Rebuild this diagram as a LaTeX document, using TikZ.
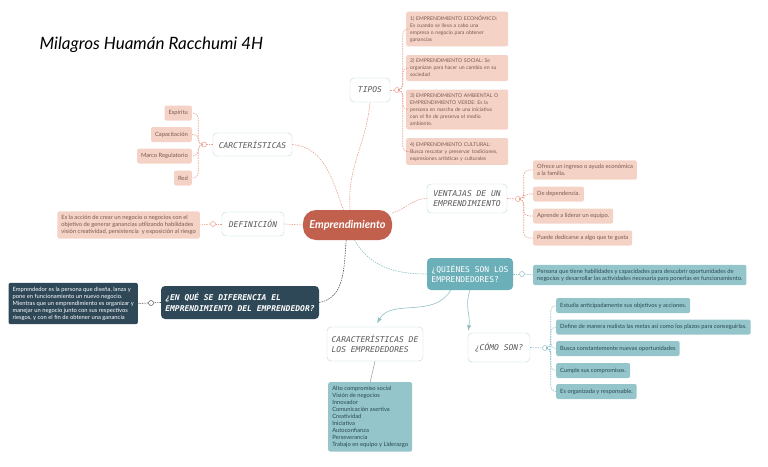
\documentclass[tikz,border=0pt]{standalone}
\usepackage{fontspec}
\setmainfont{Lato}
\newfontfamily\monofont{DejaVu Sans Mono}
\usetikzlibrary{arrows.meta,positioning,calc}

\definecolor{salmfill}{HTML}{F4D2C6}
\definecolor{salmtext}{HTML}{7A5A50}
\definecolor{salmline}{HTML}{E9A08E}
\definecolor{rimline}{HTML}{B9D9DA}
\definecolor{labeltext}{HTML}{5A5A5A}
\definecolor{tealfill}{HTML}{93C5CB}
\definecolor{tealdark}{HTML}{6BAFB9}
\definecolor{tealline}{HTML}{8FC0C6}
\definecolor{tealtext}{HTML}{2C4850}
\definecolor{navyfill}{HTML}{2F4857}
\definecolor{corefill}{HTML}{C2604E}
\definecolor{darkline}{HTML}{555555}

\newcommand{\boxfont}{\fontsize{5.8}{7}\selectfont}
\newcommand{\typefont}{\fontsize{5.1}{7}\selectfont}
\newcommand{\tagfont}{\monofont\itshape\fontsize{8}{10.5}\selectfont}

\begin{document}
\begin{tikzpicture}[
        x=1pt, y=-1pt,
        font=\boxfont,
        >=Latex,
        salmbox/.style={fill=salmfill, rounded corners=2pt, text=salmtext, align=left, inner sep=4pt, minimum height=15pt},
        tealbox/.style={fill=tealfill, rounded corners=2pt, text=tealtext, align=left, inner sep=4pt, minimum height=15pt},
        tagbox/.style={draw=rimline, fill=white, rounded corners=4pt, text=labeltext, font=\tagfont, align=center, inner sep=0pt},
        knot/.style={circle, draw=#1, fill=white, line width=0.5pt, minimum size=5pt, inner sep=0pt},
        salmlink/.style={draw=salmline, dash pattern=on 1.5pt off 1pt, line width=0.6pt},
        teallink/.style={draw=tealline, dash pattern=on 1.5pt off 1pt, line width=0.6pt},
        darklink/.style={draw=darkline, dash pattern=on 1.5pt off 1pt, line width=0.6pt}
    ]

    \useasboundingbox (0,0) rectangle (768,466);

    % Title
    \node[anchor=west, font=\itshape\fontsize{17}{20}\selectfont] (title) at (36,45) {Milagros Huamán Racchumi 4H};

    % Central node
    \node[fill=corefill, rounded corners=13pt, minimum width=89pt, minimum height=30pt, inner sep=0pt,
          text=white, font=\bfseries\itshape\fontsize{11}{13}\selectfont] (core) at (347.5,225) {Emprendimiento};

    % Main labels
    \node[tagbox, minimum width=40pt, minimum height=24pt] (tipos) at (370,90) {TIPOS};
    \node[tagbox, minimum width=79pt, minimum height=23pt] (carac) at (252.5,144.5) {CARCTERÍSTICAS};
    \node[tagbox, minimum width=62pt, minimum height=24pt] (defin) at (253,224) {DEFINICIÓN};
    \node[tagbox, minimum width=80pt, minimum height=29pt] (venta) at (467,198.5) {VENTAJAS DE UN\\EMPRENDIMIENTO};
    \node[fill=tealdark, rounded corners=4pt, minimum width=86pt, minimum height=32pt, inner sep=0pt, align=left,
          text=white, font=\monofont\fontsize{8}{10.5}\selectfont] (quien) at (470,274) {¿QUIÉNES SON LOS\\EMPRENDEDORES?};
    \node[fill=navyfill, rounded corners=4pt, minimum width=158pt, minimum height=33pt, inner sep=0pt, align=left,
          text=white, font=\monofont\bfseries\itshape\fontsize{8}{10.5}\selectfont] (difer) at (240,302.5) {¿EN QUÉ SE DIFERENCIA EL\\EMPRENDIMIENTO DEL EMPRENDEDOR?};
    \node[tagbox, minimum width=96pt, minimum height=34pt, align=left] (rasgo) at (375,344) {CARACTERÍSTICAS DE\\LOS EMPREDEDORES};
    \node[tagbox, minimum width=62pt, minimum height=29pt] (como) at (499,347.5) {¿CÓMO SON?};

    % Tipos
    \node[salmbox, font=\typefont, text width=94pt, anchor=west] (eco) at (406,29) {1) EMPRENDIMIENTO ECONÓMICO:\\Es cuando se lleva a cabo una\\empresa o negocio para obtener\\ganancias};
    \node[salmbox, font=\typefont, text width=94pt, anchor=west] (soc) at (406,68) {2) EMPRENDIMIENTO SOCIAL: Se\\organizan para hacer un cambio en su\\sociedad};
    \node[salmbox, font=\typefont, text width=94pt, anchor=west] (amb) at (406,109.5) {3) EMPRENDIMIENTO AMBIENTAL O\\EMPRENDIMIENTO VERDE: Es la\\persona en marcha de una iniciativa\\con el fin de preserva el medio\\ambiente.};
    \node[salmbox, font=\typefont, text width=94pt, anchor=west] (cul) at (406,151.5) {4) EMPRENDIMIENTO CULTURAL:\\Busca rescatar y preservar tradiciones,\\expresiones artísticas y culturales};

    % Caracteristicas
    \node[salmbox, anchor=east] (espi) at (192,113) {Espíritu};
    \node[salmbox, anchor=east] (capa) at (192,134.5) {Capacitación};
    \node[salmbox, anchor=east] (marco) at (192,156) {Marco Regulatorio};
    \node[salmbox, anchor=east] (red) at (192,178) {Red};

    % Definicion
    \node[salmbox, anchor=east] (texto) at (200,225) {Es la acción de crear un negocio o negocios con el\\objetivo de generar ganancias utilizando habilidades\\visión creatividad, persistencia \ y exposición al riesgo};

    % Ventajas
    \node[salmbox, anchor=west] (ingre) at (533,170) {Ofrece un ingreso o ayuda económica\\a la familia.};
    \node[salmbox, anchor=west] (depen) at (533,194) {De dependencia.};
    \node[salmbox, anchor=west] (lider) at (533,216) {Aprende a liderar un equipo.};
    \node[salmbox, anchor=west] (gusto) at (533,238) {Puede dedicarse a algo que te gusta};

    % Quienes son
    \node[tealbox, anchor=west] (perso) at (533,275) {Persona que tiene habilidades y capacidades para descubrir oportunidades de\\negocios y desarrollar las actividades necesaria para ponerlas en funcionamiento.};

    % Diferencia
    \node[fill=navyfill, rounded corners=2pt, text=white, align=left, inner sep=4pt, anchor=east] (expli) at (138,303.5)
        {Emprendedor es la persona que diseña, lanza y\\pone en funcionamiento un nuevo negocio.\\Mientras que un emprendimiento es organizar y\\manejar un negocio junto con sus respectivos\\riesgos, y con el fin de obtener una ganancia};

    % Como son
    \node[tealbox, anchor=west] (estud) at (556,305.5) {Estudia anticipadamente sus objetivos y acciones.};
    \node[tealbox, anchor=west] (defi) at (556,327) {Define de manera realista las metas así como los plazos para conseguirlas.};
    \node[tealbox, anchor=west] (busca) at (556,348.5) {Busca constantemente nuevas oportunidades};
    \node[tealbox, anchor=west] (cumpl) at (556,370.5) {Cumple sus compromisos.};
    \node[tealbox, anchor=west] (organ) at (556,391.5) {Es organizada y responsable.};

    % Rasgos list
    \node[tealbox, anchor=north west, minimum width=84pt] (lista) at (328,382)
        {Alto compromiso social\\Visión de negocios\\Innovador\\Comunicación asertiva\\Creatividad\\Iniciativa\\Autoconfianza\\Perseverancia\\Trabajo en equipo y Liderazgo};

    % Junction knots
    \node[knot=salmline] (ktipos) at (397,90) {};
    \node[knot=salmline] (kcarac) at (204,144.5) {};
    \node[knot=salmline] (kdefin) at (213,224) {};
    \node[knot=salmline] (kventa) at (518,199) {};
    \node[knot=tealline] (kquien) at (522,274) {};
    \node[knot=darkline] (kdifer) at (151,303) {};
    \node[knot=tealline] (kcomo) at (545,348) {};

    % Links from the center
    \draw[salmlink] (core.80) to[out=95,in=-95] (tipos.south);
    \draw[salmlink] (carac.east) to[out=-5,in=110] (core.105);
    \draw[salmlink] (defin.east) -- (core.west);
    \draw[salmlink] (core.15) to[out=15,in=180] (venta.west);
    \draw[teallink] (core.-65) to[out=-60,in=180] (quien.west);
    \draw[darklink] (core.-95) to[out=-95,in=10] (difer.east);

    % Links to knots
    \draw[salmlink] (tipos.east) -- (ktipos);
    \draw[salmlink] (carac.west) -- (kcarac);
    \draw[salmlink] (defin.west) -- (kdefin);
    \draw[salmlink] (venta.east) -- (kventa);
    \draw[teallink] (quien.east) -- (kquien);
    \draw[darklink] (difer.west) -- (kdifer);
    \draw[teallink] (como.east) -- (kcomo);

    % Knots to children
    \foreach \k in {eco,soc,amb,cul}
        \draw[salmlink, rounded corners=5pt] (ktipos.east) -- ++(3,0) |- (\k.west);
    \foreach \k in {espi,capa,marco,red}
        \draw[salmlink, rounded corners=5pt] (kcarac.west) -- ++(-3,0) |- (\k.east);
    \foreach \k in {ingre,depen,lider,gusto}
        \draw[salmlink, rounded corners=5pt] (kventa.east) -- ++(3,0) |- (\k.west);
    \foreach \k in {estud,defi,busca,cumpl,organ}
        \draw[teallink, rounded corners=5pt] (kcomo.east) -- ++(3,0) |- (\k.west);
    \draw[salmlink] (kdefin.west) -- (texto.east);
    \draw[teallink] (kquien.east) -- (perso.west);
    \draw[darklink] (kdifer.west) -- (expli.east);

    % Arrows from quienes
    \draw[->, tealline, line width=0.6pt, shorten >=4pt] (quien.220) to[out=-120,in=60] (rasgo.north);
    \draw[->, tealline, line width=0.6pt, shorten >=2pt] (quien.south) to[out=-110,in=80] (como.north west);
    \draw[darkline!60, line width=0.5pt] (rasgo.south) -- (lista.north);

\end{tikzpicture}
\end{document}
